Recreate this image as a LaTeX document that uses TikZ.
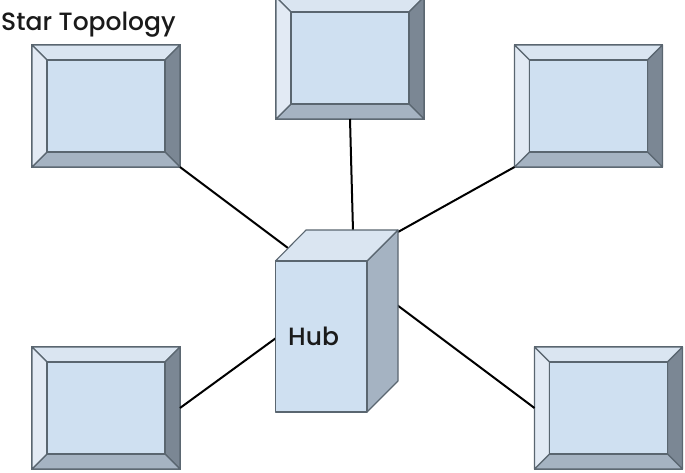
\documentclass[tikz,border=0pt]{standalone}
\usepackage{fontspec}
\setmainfont{Poppins Medium}
\usetikzlibrary{calc}
\definecolor{facec}{HTML}{CFE0F1}
\definecolor{topc}{HTML}{DAE5F1}
\definecolor{leftc}{HTML}{E2EAF4}
\definecolor{rightc}{HTML}{7B8794}
\definecolor{botc}{HTML}{A5B3C2}
\definecolor{edgec}{HTML}{5A6670}
\definecolor{inkc}{HTML}{1A1A1A}
\tikzset{
  stationbox/.style={draw=edgec,line width=1.1pt,fill=none,minimum width=148pt,minimum height=122pt,inner sep=0pt,outer sep=0pt},
  facet/.style={draw=edgec,line width=1.1pt,line join=round},
  link/.style={draw=black,line width=2pt},
  label/.style={inner sep=0pt,text=inkc}
}
\newcommand{\station}[3]{%
  \node[stationbox] (#1) at (#2,#3) {};
  \coordinate (#1a) at ($(#1.north west)+(15pt,-15pt)$);
  \coordinate (#1b) at ($(#1.north east)+(-15pt,-15pt)$);
  \coordinate (#1c) at ($(#1.south east)+(-15pt,15pt)$);
  \coordinate (#1d) at ($(#1.south west)+(15pt,15pt)$);
  \draw[facet,fill=topc] (#1.north west) -- (#1.north east) -- (#1b) -- (#1a) -- cycle;
  \draw[facet,fill=rightc] (#1.north east) -- (#1.south east) -- (#1c) -- (#1b) -- cycle;
  \draw[facet,fill=botc] (#1.south east) -- (#1.south west) -- (#1d) -- (#1c) -- cycle;
  \draw[facet,fill=leftc] (#1.south west) -- (#1.north west) -- (#1a) -- (#1d) -- cycle;
  \draw[facet,fill=facec] (#1a) -- (#1b) -- (#1c) -- (#1d) -- cycle;
}
\begin{document}
\begin{tikzpicture}[x=1pt,y=-1pt]
\useasboundingbox (0,0) rectangle (685,472);
\clip (0,0) rectangle (685,472);
\fill[white] (0,0) rectangle (685,472);
% hub attachment points
\coordinate (hubA) at (288,248);
\coordinate (hubB) at (353,231);
\coordinate (hubC) at (398,232);
\coordinate (hubD) at (276,338);
\coordinate (hubE) at (397,305);
% stations
\station{tl}{106}{106}
\station{tc}{350}{58}
\station{tr}{588.5}{106}
\station{bl}{106}{408}
\station{br}{608.5}{408}
% connectors
\draw[link] (tl.south east) -- (hubA);
\draw[link] (tc.south) -- (hubB);
\draw[link] (tr.south west) -- (hubC);
\draw[link] (bl.east) -- (hubD);
\draw[link] (br.west) -- (hubE);
% hub
\draw[facet,fill=botc] (367,261) -- (398,230) -- (398,381) -- (367,412) -- cycle;
\draw[facet,fill=topc] (275.5,261) -- (306,230) -- (398,230) -- (367,261) -- cycle;
\node[facet,fill=facec,minimum width=91.5pt,minimum height=151pt,inner sep=0pt,outer sep=0pt] (hub) at (321.25,336.5) {};
% labels
\node[label,anchor=base west,font=\fontsize{25}{28}\selectfont] (title) at (1,30) {Star Topology};
\node[label,anchor=base west,font=\fontsize{25}{28}\selectfont] (hublabel) at (288,345) {Hub};
\end{tikzpicture}
\end{document}
